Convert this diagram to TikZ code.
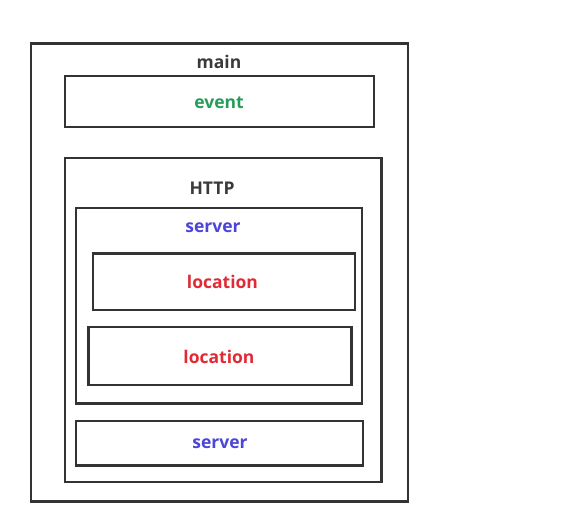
\documentclass[tikz,border=0pt]{standalone}
\usepackage{fontspec}
\setmainfont{Open Sans}
\definecolor{boxline}{HTML}{333333}
\definecolor{titlegray}{HTML}{3A3A3A}
\definecolor{evgreen}{HTML}{2A9A5A}
\definecolor{srvblue}{HTML}{4B45D8}
\definecolor{locred}{HTML}{E02A35}
\tikzset{
  frame/.style={draw=boxline, line width=2.2pt, fill=none},
  lbl/.style={font=\bfseries\fontsize{17.5}{20}\selectfont, inner sep=0pt, anchor=center},
}
\begin{document}
\begin{tikzpicture}[x=1pt,y=-1pt]
\useasboundingbox (0,0) rectangle (562,520);
\fill[white] (0,0) rectangle (562,520);
\draw[frame] (31,43.5) rectangle (408,501.5);
\draw[frame] (65,76) rectangle (374,127);
\draw[frame] (65,158) rectangle (381.5,482);
\draw[frame] (76,208) rectangle (362,403.5);
\draw[frame] (93,253.5) rectangle (355,310);
\draw[frame] (88.5,327) rectangle (351.5,385);
\draw[frame] (76,421) rectangle (363,465.5);
\node[lbl, text=titlegray] (main) at (219,61.5) {main};
\node[lbl, text=evgreen] (event) at (219,103) {event};
\node[lbl, text=titlegray] (http) at (212,188) {HTTP};
\node[lbl, text=srvblue] (server1) at (213,228) {server};
\node[lbl, text=locred] (loc1) at (222.5,282) {location};
\node[lbl, text=locred] (loc2) at (219,356.5) {location};
\node[lbl, text=srvblue] (server2) at (220,444) {server};
\end{tikzpicture}
\end{document}
